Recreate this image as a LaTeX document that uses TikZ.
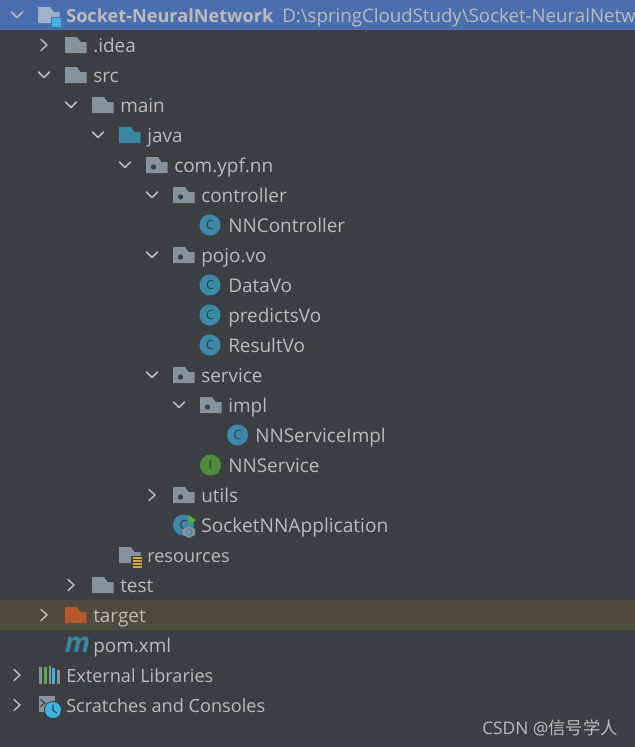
\documentclass[tikz,border=0pt]{standalone}
\usepackage{fontspec}
\setmainfont{Open Sans}
\newfontfamily\cjkfont{Noto Sans CJK SC}
\definecolor{panelbg}{HTML}{3C3F41}
\definecolor{rowblue}{HTML}{4B6EAF}
\definecolor{rowtarget}{HTML}{4D4A3F}
\definecolor{labelgray}{HTML}{BBBBBB}
\definecolor{foldergray}{HTML}{87939A}
\definecolor{rootgray}{HTML}{9FB2CC}
\definecolor{javablue}{HTML}{3A85A2}
\definecolor{classblue}{HTML}{3D88A8}
\definecolor{ifacegreen}{HTML}{4F8A3C}
\definecolor{runinggreen}{HTML}{4FB33C}
\definecolor{targetorange}{HTML}{B4592D}
\definecolor{skyblue}{HTML}{3BB4E4}
\definecolor{resorange}{HTML}{D9A343}
\definecolor{glyphdark}{HTML}{2F3B40}
\tikzset{
  treelabel/.style={anchor=base west,inner sep=0pt,text=labelgray,font=\fontsize{14.2}{16}\selectfont},
  tightlabel/.style={treelabel,font=\fontsize{13.6}{16}\selectfont},
  chevron/.style={draw=labelgray,line width=1.1pt,line cap=round,line join=round},
  pics/chevdown/.style={code={\draw[chevron] (-5.5,-3)--(0,2.5)--(5.5,-3);}},
  pics/chevright/.style={code={\draw[chevron] (-3,-5.5)--(3,0)--(-3,5.5);}},
  pics/folderic/.style={code={
    \fill[#1] (0,-8)--(12,-8)--(15.5,-3)--(21.5,-3)--(21.5,8)--(0,8)--cycle;}},
  pics/packageic/.style={code={
    \fill[foldergray] (0,-8)--(12,-8)--(15.5,-3)--(21.5,-3)--(21.5,8)--(0,8)--cycle;
    \fill[panelbg] (7.5,2) circle (2.7);}},
  classnode/.style={circle,fill=#1,minimum size=15.8pt,inner sep=0pt,text=glyphdark,font=\fontsize{9.5}{10}\selectfont},
}
\begin{document}
\begin{tikzpicture}[x=0.75pt,y=-0.75pt]
\useasboundingbox (0,0) rectangle (635,747);
\fill[panelbg] (0,0) rectangle (635,747);
\fill[rowblue] (0,0) rectangle (635,29.5);
\fill[rowtarget] (0,600) rectangle (635,630);
% chevrons
\foreach \x/\y in {17/15,44/75,71/105,98/135,125/165,152/195,152/255,152/375,179/405}
  \pic at (\x,\y) {chevdown};
\foreach \x/\y in {44/45,152/495,71/585,44/615,17/675,17/705}
  \pic at (\x,\y) {chevright};
% folders
\foreach \x/\y in {65/45,65/75,92/105,92/585}
  \pic at (\x,\y) {folderic=foldergray};
\pic at (119,135) {folderic=javablue};
\pic at (65,615) {folderic=targetorange};
\foreach \x/\y in {146/165,173/195,173/255,173/375,200/405,173/495}
  \pic at (\x,\y) {packageic};
% root folder
\pic at (38,15) {folderic=rootgray};
\fill[rowblue] (50.5,16.5) rectangle (61,27);
\fill[skyblue] (52,18) rectangle (61,27);
% resources folder
\pic at (119,555) {folderic=foldergray};
\fill[panelbg] (131,556) rectangle (143,568);
\foreach \y in {558,561,564,567}
  \draw[resorange,line width=1.1pt] (133,\y)--(142,\y);
% classes
\node[classnode=classblue] (ctrlic) at (210,225) {C};
\node[classnode=classblue] (dataic) at (210,285) {C};
\node[classnode=classblue] (predic) at (210,315) {C};
\node[classnode=classblue] (resic) at (210,345) {C};
\node[classnode=classblue] (implic) at (237.5,435) {C};
\node[classnode=ifacegreen] (svcic) at (210.5,465) {I};
% application icon
\node[classnode=classblue] (appic) at (183.5,525) {C};
\fill[runinggreen] (188.5,515)--(196,520)--(188.5,525)--cycle;
\fill[foldergray] (189,526.5)--(195,529)--(195,535)--(189,538)--(183,535)--(183,529)--cycle;
\draw[classblue,line width=0.8pt] (189,532) circle (3);
% maven icon
\node[anchor=base west,inner sep=0pt,text=javablue,font=\fontsize{21}{22}\bfseries\itshape\selectfont] (pomic) at (64.5,652) {m};
% library icon
\fill[foldergray] (38.5,667) rectangle (41.5,684);
\fill[runinggreen] (43.5,667) rectangle (46.5,684);
\fill[foldergray] (48.5,665.5) rectangle (50.5,684);
\fill[skyblue] (52,668) rectangle (55,684);
\fill[foldergray] (57,670) rectangle (60,684);
% scratches icon
\fill[foldergray] (38.5,696) rectangle (55,712);
\draw[panelbg,line width=0.9pt] (40.5,699.5)--(45,703)--(40.5,706.5);
\fill[panelbg] (53,710) circle (9);
\fill[skyblue] (53,710) circle (8);
\draw[panelbg,line width=0.9pt] (53,704.5)--(53,710.5)--(57,713);
% labels
\foreach \x/\y/\t/\n in {93/45/.idea/idea,93/75/src/src,120/105/main/main,147/135/java/java,174/165/com.ypf.nn/com,
  201/195/controller/ctrl,228/225/NNController/nnctrl,201/255/pojo.vo/pojo,228/285/DataVo/datavo,
  228/315/predictsVo/predvo,228/345/ResultVo/resvo,201/375/service/svc,228/405/impl/impl,
  255/435/NNServiceImpl/nnimpl,228/465/NNService/nnsvc,201/495/utils/utils,
  120/585/test/test,93/615/target/target,93/645/pom.xml/pom}
  \node[treelabel] (\n) at ({\x},{\y+7.2}) {\t};
\node[treelabel,font=\fontsize{14.35}{16}\selectfont] (app) at (201,532.2) {SocketNNApplication};
\foreach \x/\y/\t/\n in {147/555/resources/res,66/675/External Libraries/extlib,66/705/Scratches and Consoles/scratch}
  \node[tightlabel] (\n) at ({\x},{\y+7.2}) {\t};
\begin{scope}
\clip (0,0) rectangle (635,30);
\node[treelabel,font=\fontsize{13.6}{15}\bfseries\selectfont] (rootname) at (66,22) {Socket-NeuralNetwork};
\node[treelabel,font=\fontsize{14}{16}\selectfont] (rootpath) at (282,22) {D:\textbackslash springCloudStudy\textbackslash Socket-NeuralNetw};
\end{scope}
\node[anchor=base west,inner sep=0pt,text=labelgray,font=\fontsize{13}{14}\selectfont] (mark) at (482,734) {CSDN @{\cjkfont 信号学人}};
\end{tikzpicture}
\end{document}
